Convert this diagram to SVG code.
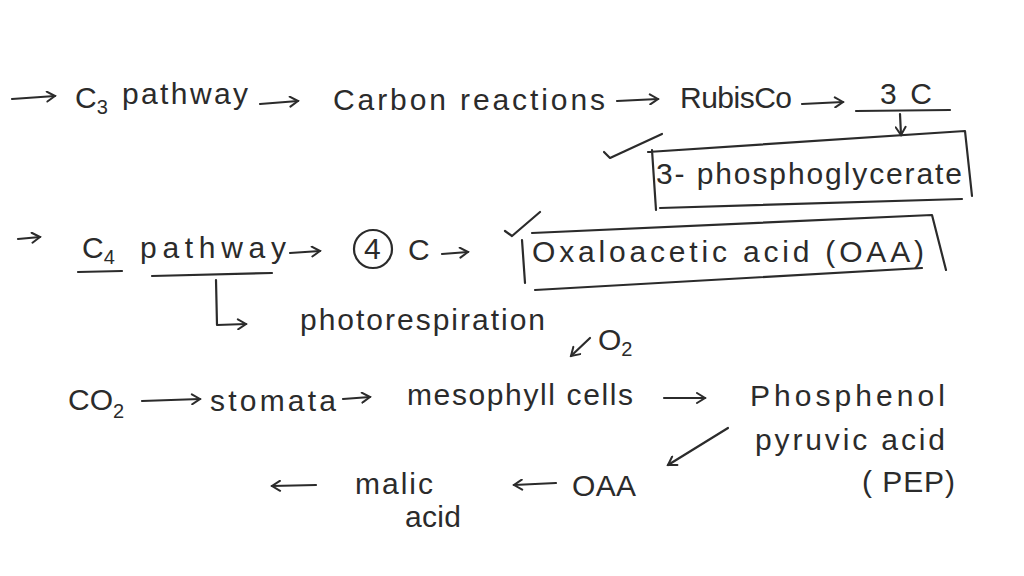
<svg xmlns="http://www.w3.org/2000/svg" width="1024" height="576" viewBox="0 0 1024 576">
<defs>
<style>
text{font-family:"Liberation Sans","DejaVu Sans",sans-serif;font-size:30px;fill:#2b2b2b;}
.sub{font-size:20px;}
.ln{fill:none;stroke:#2b2b2b;stroke-width:2.2;stroke-linecap:round;stroke-linejoin:round;}
.ar{fill:none;stroke:#2b2b2b;stroke-width:2.2;stroke-linecap:round;stroke-linejoin:round;marker-end:url(#ah);}
</style>
<marker id="ah" viewBox="0 0 12 12" refX="10" refY="6" markerWidth="12" markerHeight="12" markerUnits="userSpaceOnUse" orient="auto">
<path d="M2,1 L10,6 L2,11" fill="none" stroke="#2b2b2b" stroke-width="2" stroke-linecap="round"/>
</marker>
</defs>
<rect width="1024" height="576" fill="#ffffff"/>

<g id="connectors">
<path class="ar" d="M12,99 L55,96"/>
<path class="ar" d="M260,104 L298,101"/>
<path class="ar" d="M617,101 L658,99"/>
<path class="ar" d="M802,104 L843,102"/>
<path class="ar" d="M900,114 L901,135"/>
<path class="ar" d="M18,239 L40,237"/>
<path class="ar" d="M290,253 L320,251"/>
<path class="ar" d="M442,254 L468,252"/>
<path class="ar" d="M216,280 L217,325 L246,324"/>
<path class="ar" d="M590,338 L571,356"/>
<path class="ar" d="M142,401 L200,399"/>
<path class="ar" d="M343,399 L370,397"/>
<path class="ar" d="M664,398 L705,398"/>
<path class="ar" d="M728,428 L668,465"/>
<path class="ar" d="M316,485 L272,486"/>
<path class="ar" d="M556,483 L514,485"/>
</g>

<g id="c3-pathway">
<text x="75" y="108">C<tspan class="sub" dy="6">3</tspan></text>
<text x="122" y="104" textLength="126">pathway</text>
</g>
<g id="carbon-reactions">
<text x="333" y="110" textLength="272">Carbon reactions</text>
</g>
<g id="rubisco">
<text x="680" y="108" textLength="112">RubisCo</text>
</g>
<g id="three-c">
<text x="880" y="104" textLength="52">3 C</text>
<path class="ln" d="M856,111 L950,110"/>
</g>
<g id="three-phosphoglycerate">
<path class="ln" d="M604,152 L610,158 L662,134"/>
<path class="ln" d="M648,152 L965,131 L972,196 M652,150 L656,210 M660,208 L962,199"/>
<text x="656" y="184" textLength="306">3- phosphoglycerate</text>
</g>

<g id="c4-pathway">
<text x="82" y="258">C<tspan class="sub" dy="6">4</tspan></text>
<text x="140" y="258" textLength="146">pathway</text>
<path class="ln" d="M78,272 L122,271 M152,276 L272,273"/>
</g>
<g id="four-c">
<circle class="ln" cx="373" cy="249" r="19"/>
<text x="364" y="259">4</text>
<text x="408" y="260">C</text>
</g>
<g id="oaa-box">
<path class="ln" d="M505,231 L512,236 L540,212"/>
<path class="ln" d="M522,240 L525,283 M532,233 L932,215 L946,270 M535,290 L922,268"/>
<text x="532" y="262" textLength="392">Oxaloacetic acid  (OAA)</text>
</g>
<g id="photorespiration">
<text x="300" y="330" textLength="245">photorespiration</text>
</g>
<g id="o2">
<text x="598" y="350">O<tspan class="sub" dy="6">2</tspan></text>
</g>

<g id="co2">
<text x="68" y="410">CO<tspan class="sub" dy="8">2</tspan></text>
</g>
<g id="stomata">
<text x="210" y="411" textLength="126">stomata</text>
</g>
<g id="mesophyll-cells">
<text x="407" y="405" textLength="226">mesophyll cells</text>
</g>
<g id="pep">
<text x="750" y="406" textLength="195">Phosphenol</text>
<text x="755" y="450" textLength="190">pyruvic acid</text>
<text x="862" y="492" textLength="93">( PEP)</text>
</g>
<g id="malic-acid">
<text x="355" y="494" textLength="78">malic</text>
<text x="405" y="527" textLength="56">acid</text>
</g>
<g id="oaa">
<text x="572" y="496" textLength="64">OAA</text>
</g>
</svg>
